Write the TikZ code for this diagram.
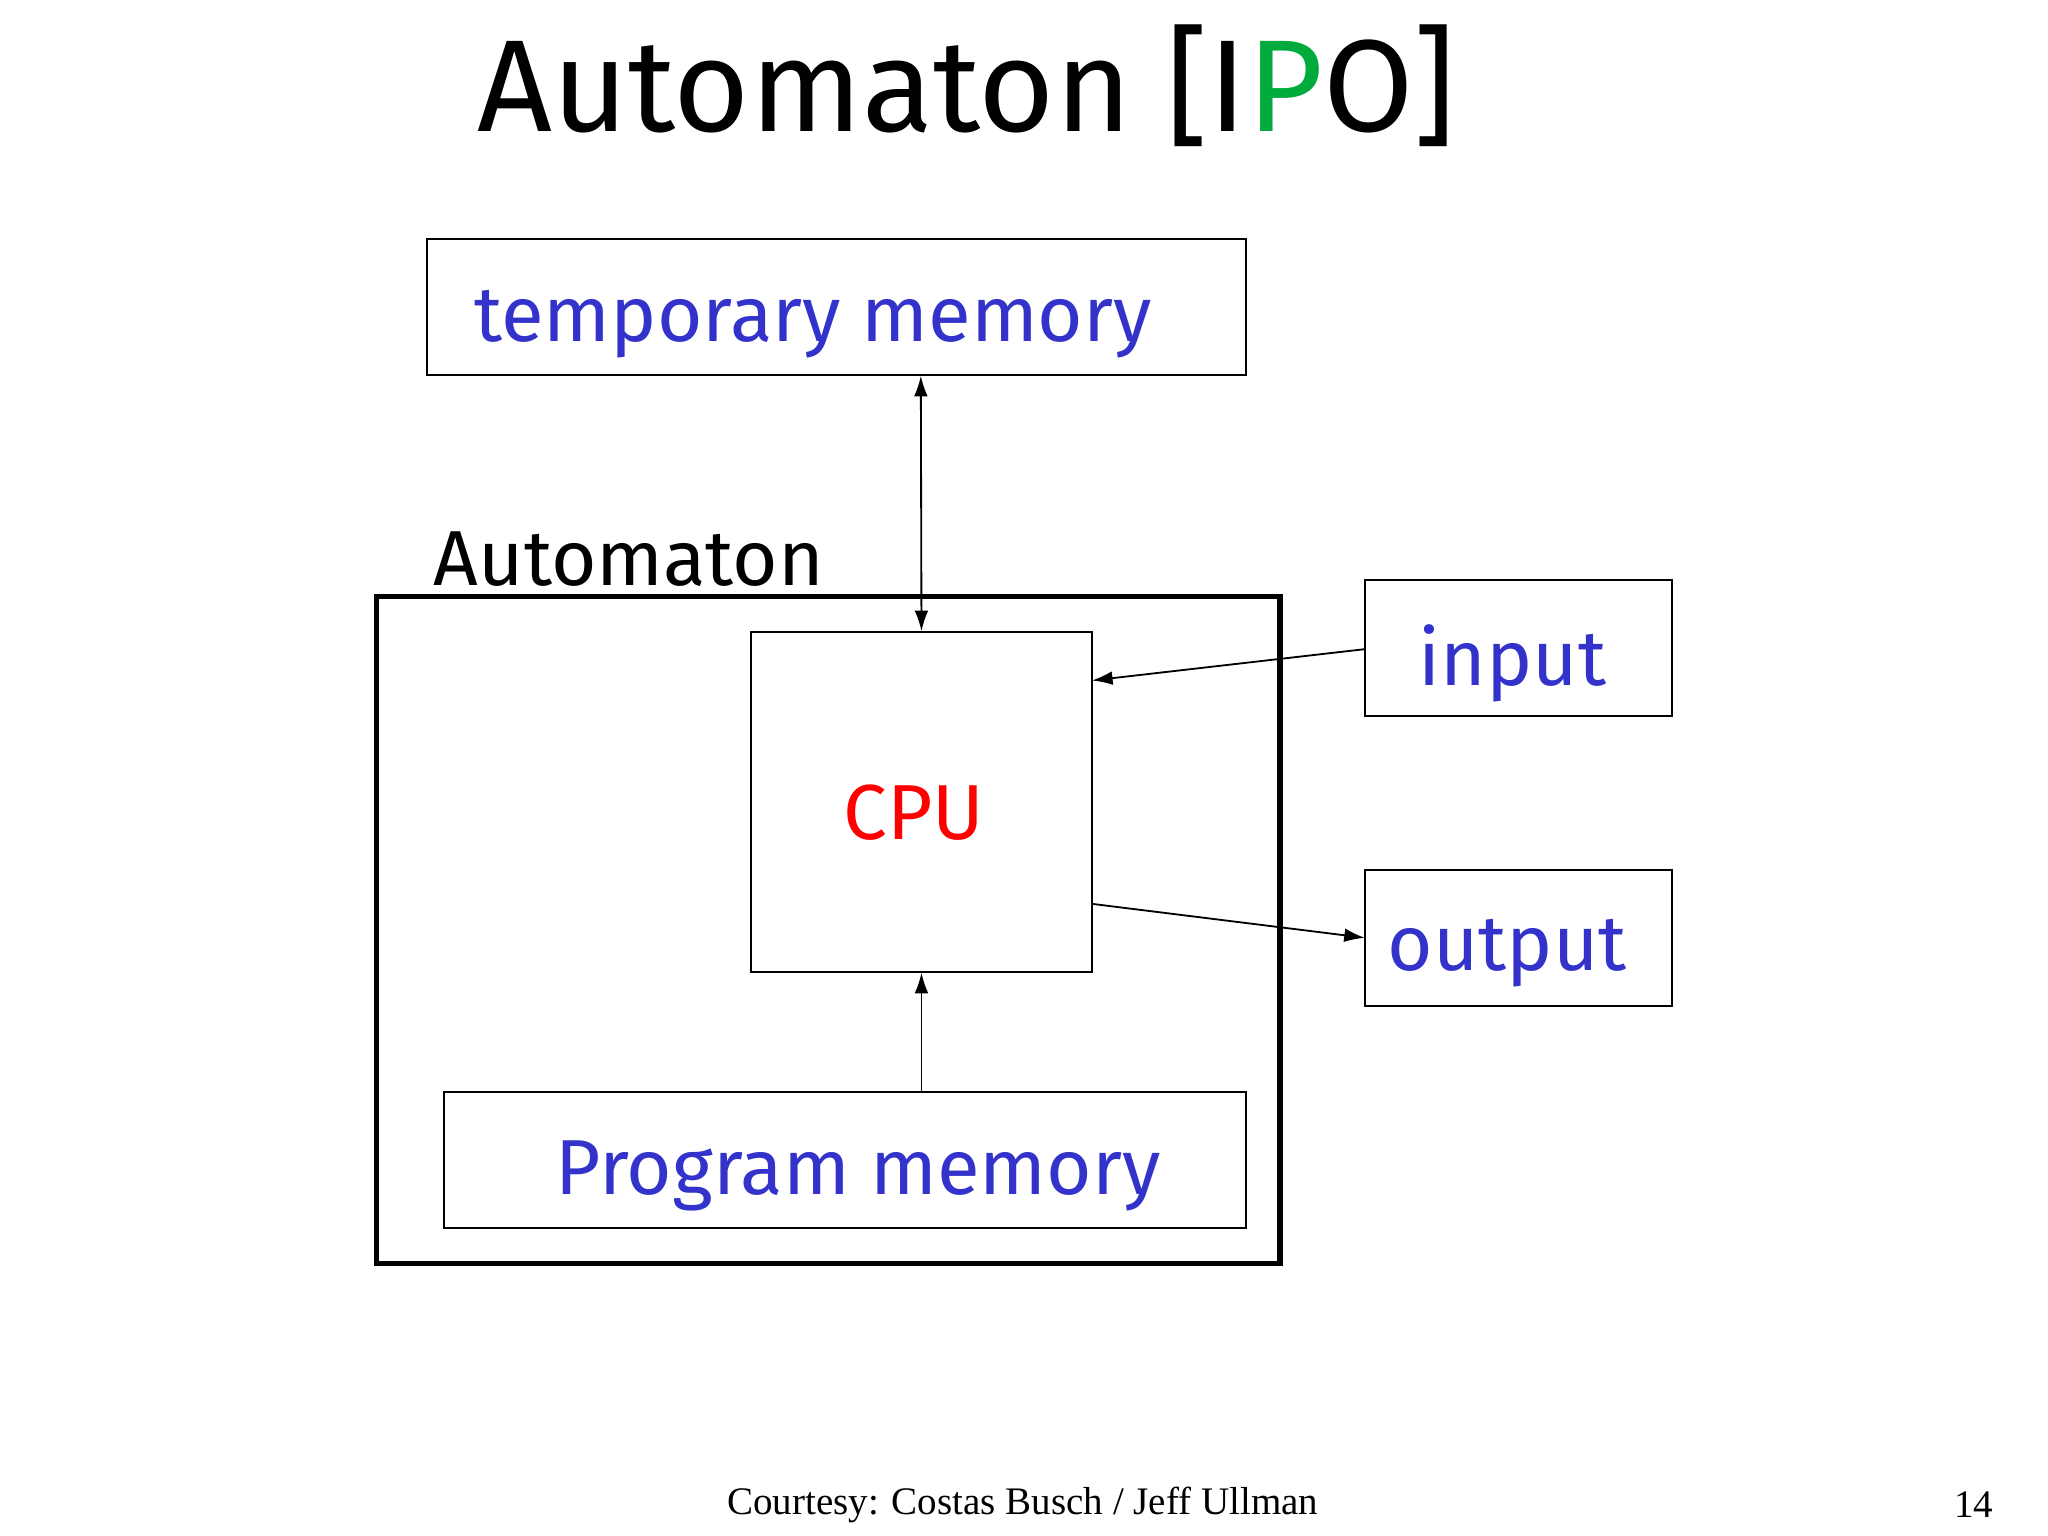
\documentclass[tikz,border=0pt]{standalone}
\usepackage{fontspec}
\setmainfont{Liberation Serif}
\newfontfamily\comic{Fira Sans}
\usetikzlibrary{arrows.meta}
\definecolor{blu}{RGB}{51,51,204}
\definecolor{grn}{RGB}{0,170,60}
\begin{document}
\begin{tikzpicture}[x=0.02cm,y=-0.02cm,
  box/.style={draw,line width=0.8pt,inner sep=0pt},
  lbl/.style={font=\comic\fontsize{34}{40}\selectfont,text=blu},
  arr/.style={-{Latex[length=9pt,width=6pt]},line width=0.8pt}]
\useasboundingbox[fill=white] (0,0) rectangle (1568,1176);
\node[font=\comic\fontsize{57}{64}\selectfont] (title) at (740,66) {Automaton [I\textcolor{grn}{P}O]};
\node[box,minimum width=627*0.02cm,minimum height=104*0.02cm] (tm) at (640.5,235) {};
\node[lbl,anchor=west] (tmt) at (357,248) {temporary memory};
\node[fill=none] (tmspacer) at (0,0) {};
\draw[line width=2.2pt] (288,457) rectangle (980,967);
\node[font=\comic\fontsize{34}{40}\selectfont,anchor=west] (aut) at (326,428) {Automaton};
\node[box,minimum width=261*0.02cm,minimum height=260*0.02cm] (cpu) at (705.5,614) {};
\node[lbl,text=red] (cput) at (700,622) {CPU};
\node[box,minimum width=235*0.02cm,minimum height=104*0.02cm] (in) at (1162.5,496) {};
\node[lbl] (int) at (1158,508) {input};
\node[box,minimum width=235*0.02cm,minimum height=104*0.02cm] (out) at (1162.5,718) {};
\node[lbl] (outt) at (1154,730) {output};
\node[box,minimum width=614*0.02cm,minimum height=104*0.02cm] (pm) at (647,888) {};
\node[lbl] (pmt) at (657,900) {Program memory};
\coordinate (c1) at (836,521);
\coordinate (c2) at (836,692);
\coordinate (o1) at (1045,718);
\coordinate (i1) at (1045,497);
\draw[arr,{Latex[length=9pt,width=6pt]}-{Latex[length=9pt,width=6pt]}] (tm.south -| 705,0) -- (cpu.north);
\draw[arr] (i1) -- (c1);
\draw[arr] (c2) -- (o1);
\draw[arr] (pm.north -| cpu) -- (cpu.south);
\node[font=\fontsize{17}{20}\selectfont] (court) at (783,1152) {Courtesy: Costas Busch / Jeff Ullman};
\node[font=\fontsize{17}{20}\selectfont] (pg) at (1511,1152) {14};
\end{tikzpicture}
\end{document}
